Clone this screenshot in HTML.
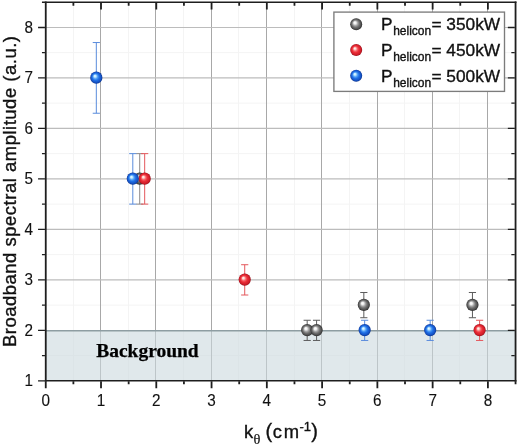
<!DOCTYPE html>
<html><head><meta charset="utf-8"><title>Broadband spectral amplitude</title>
<style>html,body{margin:0;padding:0;background:#fff}svg{display:block}</style></head>
<body>
<svg width="520" height="446" viewBox="0 0 520 446">
<defs>
<filter id="soft" x="0" y="0" width="100%" height="100%" filterUnits="userSpaceOnUse" color-interpolation-filters="sRGB"><feGaussianBlur stdDeviation="0.33"/></filter>
<radialGradient id="gb" cx="0.5" cy="0.5" r="0.5" fx="0.37" fy="0.35">
<stop offset="0" stop-color="#f4fdff"/><stop offset="0.17" stop-color="#c0eaff"/><stop offset="0.38" stop-color="#52a0f6"/><stop offset="0.58" stop-color="#2070e6"/><stop offset="0.85" stop-color="#1450c2"/><stop offset="1" stop-color="#09328c"/></radialGradient>
<radialGradient id="gr" cx="0.5" cy="0.5" r="0.5" fx="0.37" fy="0.35">
<stop offset="0" stop-color="#fffcfa"/><stop offset="0.16" stop-color="#ffd6d0"/><stop offset="0.36" stop-color="#f6686c"/><stop offset="0.56" stop-color="#ec2e38"/><stop offset="0.85" stop-color="#ce1c28"/><stop offset="1" stop-color="#940e18"/></radialGradient>
<radialGradient id="gg" cx="0.5" cy="0.5" r="0.5" fx="0.37" fy="0.35">
<stop offset="0" stop-color="#ffffff"/><stop offset="0.2" stop-color="#f0f0f0"/><stop offset="0.42" stop-color="#a4a4a4"/><stop offset="0.62" stop-color="#727272"/><stop offset="0.85" stop-color="#4e4e4e"/><stop offset="1" stop-color="#2a2a2a"/></radialGradient>
</defs>
<rect width="520" height="446" fill="#fff"/>
<g filter="url(#soft)">
<rect width="520" height="446" fill="#fff"/>
<line x1="73.50" x2="73.50" y1="2.15" y2="380.85" stroke="#f4f4f4" stroke-width="1"/>
<line x1="128.50" x2="128.50" y1="2.15" y2="380.85" stroke="#f4f4f4" stroke-width="1"/>
<line x1="183.50" x2="183.50" y1="2.15" y2="380.85" stroke="#f4f4f4" stroke-width="1"/>
<line x1="238.50" x2="238.50" y1="2.15" y2="380.85" stroke="#f4f4f4" stroke-width="1"/>
<line x1="294.50" x2="294.50" y1="2.15" y2="380.85" stroke="#f4f4f4" stroke-width="1"/>
<line x1="349.50" x2="349.50" y1="2.15" y2="380.85" stroke="#f4f4f4" stroke-width="1"/>
<line x1="404.50" x2="404.50" y1="2.15" y2="380.85" stroke="#f4f4f4" stroke-width="1"/>
<line x1="459.50" x2="459.50" y1="2.15" y2="380.85" stroke="#f4f4f4" stroke-width="1"/>
<line x1="515.50" x2="515.50" y1="2.15" y2="380.85" stroke="#f4f4f4" stroke-width="1"/>
<line y1="355.60" y2="355.60" x1="45.75" x2="515.55" stroke="#f4f4f4" stroke-width="1"/>
<line y1="305.11" y2="305.11" x1="45.75" x2="515.55" stroke="#f4f4f4" stroke-width="1"/>
<line y1="254.62" y2="254.62" x1="45.75" x2="515.55" stroke="#f4f4f4" stroke-width="1"/>
<line y1="204.12" y2="204.12" x1="45.75" x2="515.55" stroke="#f4f4f4" stroke-width="1"/>
<line y1="153.63" y2="153.63" x1="45.75" x2="515.55" stroke="#f4f4f4" stroke-width="1"/>
<line y1="103.14" y2="103.14" x1="45.75" x2="515.55" stroke="#f4f4f4" stroke-width="1"/>
<line y1="52.64" y2="52.64" x1="45.75" x2="515.55" stroke="#f4f4f4" stroke-width="1"/>
<line x1="100.50" x2="100.50" y1="2.15" y2="380.85" stroke="#a8a8a8" stroke-width="1"/>
<line x1="155.50" x2="155.50" y1="2.15" y2="380.85" stroke="#a8a8a8" stroke-width="1"/>
<line x1="211.50" x2="211.50" y1="2.15" y2="380.85" stroke="#a8a8a8" stroke-width="1"/>
<line x1="266.50" x2="266.50" y1="2.15" y2="380.85" stroke="#a8a8a8" stroke-width="1"/>
<line x1="321.50" x2="321.50" y1="2.15" y2="380.85" stroke="#a8a8a8" stroke-width="1"/>
<line x1="377.50" x2="377.50" y1="2.15" y2="380.85" stroke="#a8a8a8" stroke-width="1"/>
<line x1="432.50" x2="432.50" y1="2.15" y2="380.85" stroke="#a8a8a8" stroke-width="1"/>
<line x1="487.50" x2="487.50" y1="2.15" y2="380.85" stroke="#a8a8a8" stroke-width="1"/>
<line y1="279.86" y2="279.86" x1="45.75" x2="515.55" stroke="#bcbcbc" stroke-width="1.05"/>
<line y1="229.37" y2="229.37" x1="45.75" x2="515.55" stroke="#bcbcbc" stroke-width="1.05"/>
<line y1="178.88" y2="178.88" x1="45.75" x2="515.55" stroke="#bcbcbc" stroke-width="1.05"/>
<line y1="128.38" y2="128.38" x1="45.75" x2="515.55" stroke="#bcbcbc" stroke-width="1.05"/>
<line y1="77.89" y2="77.89" x1="45.75" x2="515.55" stroke="#bcbcbc" stroke-width="1.05"/>
<line y1="27.40" y2="27.40" x1="45.75" x2="515.55" stroke="#bcbcbc" stroke-width="1.05"/>
<rect x="45.75" y="330.56" width="469.80" height="50.29" fill="#ccd8dd" fill-opacity="0.60"/>
<line x1="45.75" x2="515.55" y1="330.76" y2="330.76" stroke="#8e9da2" stroke-width="1.3"/>
<text x="96.2" y="357.2" font-family="'Liberation Serif',serif" font-weight="bold" font-size="19" textLength="102.5" lengthAdjust="spacingAndGlyphs" fill="#000" stroke="#000" stroke-width="0.25">Background</text>
<path d="M139.71 153.63V204.12M136.11 153.63h7.2M136.11 204.12h7.2" stroke="#8c8888" stroke-width="1" fill="none"/>
<path d="M307.18 320.26V340.46M303.58 320.26h7.2M303.58 340.46h7.2" stroke="#5c5c5c" stroke-width="1" fill="none"/>
<path d="M316.58 320.26V340.46M312.98 320.26h7.2M312.98 340.46h7.2" stroke="#5c5c5c" stroke-width="1" fill="none"/>
<path d="M363.83 292.49V317.73M360.23 292.49h7.2M360.23 317.73h7.2" stroke="#5c5c5c" stroke-width="1" fill="none"/>
<path d="M472.44 292.49V317.73M468.84 292.49h7.2M468.84 317.73h7.2" stroke="#5c5c5c" stroke-width="1" fill="none"/>
<path d="M144.68 153.63V204.12M141.08 153.63h7.2M141.08 204.12h7.2" stroke="#e4585c" stroke-width="1" fill="none"/>
<path d="M244.72 264.72V295.01M241.12 264.72h7.2M241.12 295.01h7.2" stroke="#e4585c" stroke-width="1" fill="none"/>
<path d="M479.62 320.26V340.46M476.02 320.26h7.2M476.02 340.46h7.2" stroke="#e4585c" stroke-width="1" fill="none"/>
<path d="M96.32 42.54V113.24M92.72 42.54h7.2M92.72 113.24h7.2" stroke="#5a8cdc" stroke-width="1" fill="none"/>
<path d="M132.80 153.63V204.12M129.20 153.63h7.2M129.20 204.12h7.2" stroke="#5a8cdc" stroke-width="1" fill="none"/>
<path d="M364.66 320.26V340.46M361.06 320.26h7.2M361.06 340.46h7.2" stroke="#5a8cdc" stroke-width="1" fill="none"/>
<path d="M430.16 320.26V340.46M426.56 320.26h7.2M426.56 340.46h7.2" stroke="#5a8cdc" stroke-width="1" fill="none"/>
<circle cx="139.71" cy="178.63" r="6.1" fill="url(#gg)"/>
<circle cx="307.18" cy="330.11" r="6.1" fill="url(#gg)"/>
<circle cx="316.58" cy="330.11" r="6.1" fill="url(#gg)"/>
<circle cx="363.83" cy="304.86" r="6.1" fill="url(#gg)"/>
<circle cx="472.44" cy="304.86" r="6.1" fill="url(#gg)"/>
<circle cx="144.68" cy="178.63" r="6.1" fill="url(#gr)"/>
<circle cx="244.72" cy="279.61" r="6.1" fill="url(#gr)"/>
<circle cx="479.62" cy="330.11" r="6.1" fill="url(#gr)"/>
<circle cx="96.32" cy="77.64" r="6.1" fill="url(#gb)"/>
<circle cx="132.80" cy="178.63" r="6.1" fill="url(#gb)"/>
<circle cx="364.66" cy="330.11" r="6.1" fill="url(#gb)"/>
<circle cx="430.16" cy="330.11" r="6.1" fill="url(#gb)"/>
<path d="M45.75 1.45V381.55M515.55 1.45V381.55" stroke="#1e1e1e" stroke-width="1.8" fill="none"/>
<path d="M44.85 2.15H516.4499999999999M44.85 380.85H516.4499999999999" stroke="#1e1e1e" stroke-width="1.5" fill="none"/>
<path d="M45.75 381.35v6.9M73.39 381.35v3.0M73.39 2.65v3.2M101.02 381.35v6.9M101.02 2.65v6.9M128.66 381.35v3.0M128.66 2.65v3.2M156.29 381.35v6.9M156.29 2.65v6.9M183.93 381.35v3.0M183.93 2.65v3.2M211.56 381.35v6.9M211.56 2.65v6.9M239.20 381.35v3.0M239.20 2.65v3.2M266.83 381.35v6.9M266.83 2.65v6.9M294.47 381.35v3.0M294.47 2.65v3.2M322.10 381.35v6.9M322.10 2.65v6.9M349.74 381.35v3.0M349.74 2.65v3.2M377.37 381.35v6.9M377.37 2.65v6.9M405.01 381.35v3.0M405.01 2.65v3.2M432.64 381.35v6.9M432.64 2.65v6.9M460.28 381.35v3.0M460.28 2.65v3.2M487.91 381.35v6.9M487.91 2.65v6.9M515.55 381.35v3.0" stroke="#1e1e1e" stroke-width="1.8" fill="none"/>
<path d="M44.95 380.85h-6.9M44.95 355.60h-3.0M514.75 355.60h-3.4M44.95 330.36h-6.9M514.75 330.36h-6.9M44.95 305.11h-3.0M514.75 305.11h-3.4M44.95 279.86h-6.9M514.75 279.86h-6.9M44.95 254.62h-3.0M514.75 254.62h-3.4M44.95 229.37h-6.9M514.75 229.37h-6.9M44.95 204.12h-3.0M514.75 204.12h-3.4M44.95 178.88h-6.9M514.75 178.88h-6.9M44.95 153.63h-3.0M514.75 153.63h-3.4M44.95 128.38h-6.9M514.75 128.38h-6.9M44.95 103.14h-3.0M514.75 103.14h-3.4M44.95 77.89h-6.9M514.75 77.89h-6.9M44.95 52.64h-3.0M514.75 52.64h-3.4M44.95 27.40h-6.9M514.75 27.40h-6.9M44.95 2.15h-3.0" stroke="#1e1e1e" stroke-width="1.45" fill="none"/>
<text x="45.75" y="406.0" font-family="'Liberation Sans',sans-serif" stroke="#111" stroke-width="0.12" font-size="15.7" textLength="8.5" lengthAdjust="spacingAndGlyphs" text-anchor="middle" fill="#111">0</text>
<text x="101.02" y="406.0" font-family="'Liberation Sans',sans-serif" stroke="#111" stroke-width="0.12" font-size="15.7" textLength="8.5" lengthAdjust="spacingAndGlyphs" text-anchor="middle" fill="#111">1</text>
<text x="156.29" y="406.0" font-family="'Liberation Sans',sans-serif" stroke="#111" stroke-width="0.12" font-size="15.7" textLength="8.5" lengthAdjust="spacingAndGlyphs" text-anchor="middle" fill="#111">2</text>
<text x="211.56" y="406.0" font-family="'Liberation Sans',sans-serif" stroke="#111" stroke-width="0.12" font-size="15.7" textLength="8.5" lengthAdjust="spacingAndGlyphs" text-anchor="middle" fill="#111">3</text>
<text x="266.83" y="406.0" font-family="'Liberation Sans',sans-serif" stroke="#111" stroke-width="0.12" font-size="15.7" textLength="8.5" lengthAdjust="spacingAndGlyphs" text-anchor="middle" fill="#111">4</text>
<text x="322.10" y="406.0" font-family="'Liberation Sans',sans-serif" stroke="#111" stroke-width="0.12" font-size="15.7" textLength="8.5" lengthAdjust="spacingAndGlyphs" text-anchor="middle" fill="#111">5</text>
<text x="377.37" y="406.0" font-family="'Liberation Sans',sans-serif" stroke="#111" stroke-width="0.12" font-size="15.7" textLength="8.5" lengthAdjust="spacingAndGlyphs" text-anchor="middle" fill="#111">6</text>
<text x="432.64" y="406.0" font-family="'Liberation Sans',sans-serif" stroke="#111" stroke-width="0.12" font-size="15.7" textLength="8.5" lengthAdjust="spacingAndGlyphs" text-anchor="middle" fill="#111">7</text>
<text x="487.91" y="406.0" font-family="'Liberation Sans',sans-serif" stroke="#111" stroke-width="0.12" font-size="15.7" textLength="8.5" lengthAdjust="spacingAndGlyphs" text-anchor="middle" fill="#111">8</text>
<text x="33.0" y="386.05" font-family="'Liberation Sans',sans-serif" stroke="#111" stroke-width="0.12" font-size="15.7" textLength="8.5" lengthAdjust="spacingAndGlyphs" text-anchor="end" fill="#111">1</text>
<text x="33.0" y="335.56" font-family="'Liberation Sans',sans-serif" stroke="#111" stroke-width="0.12" font-size="15.7" textLength="8.5" lengthAdjust="spacingAndGlyphs" text-anchor="end" fill="#111">2</text>
<text x="33.0" y="285.06" font-family="'Liberation Sans',sans-serif" stroke="#111" stroke-width="0.12" font-size="15.7" textLength="8.5" lengthAdjust="spacingAndGlyphs" text-anchor="end" fill="#111">3</text>
<text x="33.0" y="234.57" font-family="'Liberation Sans',sans-serif" stroke="#111" stroke-width="0.12" font-size="15.7" textLength="8.5" lengthAdjust="spacingAndGlyphs" text-anchor="end" fill="#111">4</text>
<text x="33.0" y="184.08" font-family="'Liberation Sans',sans-serif" stroke="#111" stroke-width="0.12" font-size="15.7" textLength="8.5" lengthAdjust="spacingAndGlyphs" text-anchor="end" fill="#111">5</text>
<text x="33.0" y="133.58" font-family="'Liberation Sans',sans-serif" stroke="#111" stroke-width="0.12" font-size="15.7" textLength="8.5" lengthAdjust="spacingAndGlyphs" text-anchor="end" fill="#111">6</text>
<text x="33.0" y="83.09" font-family="'Liberation Sans',sans-serif" stroke="#111" stroke-width="0.12" font-size="15.7" textLength="8.5" lengthAdjust="spacingAndGlyphs" text-anchor="end" fill="#111">7</text>
<text x="33.0" y="32.60" font-family="'Liberation Sans',sans-serif" stroke="#111" stroke-width="0.12" font-size="15.7" textLength="8.5" lengthAdjust="spacingAndGlyphs" text-anchor="end" fill="#111">8</text>
<text transform="translate(15.5,347.0) rotate(-90)" font-family="'Liberation Sans',sans-serif" stroke="#111" stroke-width="0.35" font-size="18.4" textLength="311.0" lengthAdjust="spacing" fill="#111">Broadband spectral amplitude (a.u.)</text>
<text x="244.0" y="438.1" font-family="'Liberation Sans',sans-serif" stroke="#111" stroke-width="0.35" font-size="18.4" fill="#111">k<tspan x="253.4" y="444.0" font-family="'Liberation Serif','DejaVu Serif',serif" font-size="14.6" textLength="6.9" lengthAdjust="spacingAndGlyphs" stroke-width="0.2">θ</tspan><tspan x="262" y="438.1"> </tspan><tspan x="265.4" y="438.2" font-size="20">(</tspan><tspan x="272.8 283.7" y="438.1">cm</tspan><tspan x="299.4" y="430.8" font-size="13">-1</tspan><tspan x="311.3" y="438.2" font-size="20">)</tspan></text>
<rect x="333.9" y="12.1" width="170.6" height="79.3" fill="#fff" stroke="#7c7c7c" stroke-width="1.35"/>
<circle cx="356.2" cy="24.25" r="6" fill="url(#gg)"/>
<text x="381.0" y="30.3" font-family="'Liberation Sans',sans-serif" stroke="#111" stroke-width="0.35" font-size="17.3" fill="#111">P<tspan font-size="12" dy="4.8" dx="0.6">helicon</tspan><tspan dy="-4.8" dx="0.3">= 350kW</tspan></text>
<circle cx="356.2" cy="50.05" r="6" fill="url(#gr)"/>
<text x="381.0" y="56.1" font-family="'Liberation Sans',sans-serif" stroke="#111" stroke-width="0.35" font-size="17.3" fill="#111">P<tspan font-size="12" dy="4.8" dx="0.6">helicon</tspan><tspan dy="-4.8" dx="0.3">= 450kW</tspan></text>
<circle cx="356.2" cy="75.75" r="6" fill="url(#gb)"/>
<text x="381.0" y="81.8" font-family="'Liberation Sans',sans-serif" stroke="#111" stroke-width="0.35" font-size="17.3" fill="#111">P<tspan font-size="12" dy="4.8" dx="0.6">helicon</tspan><tspan dy="-4.8" dx="0.3">= 500kW</tspan></text>
</g>
</svg>
</body></html>
